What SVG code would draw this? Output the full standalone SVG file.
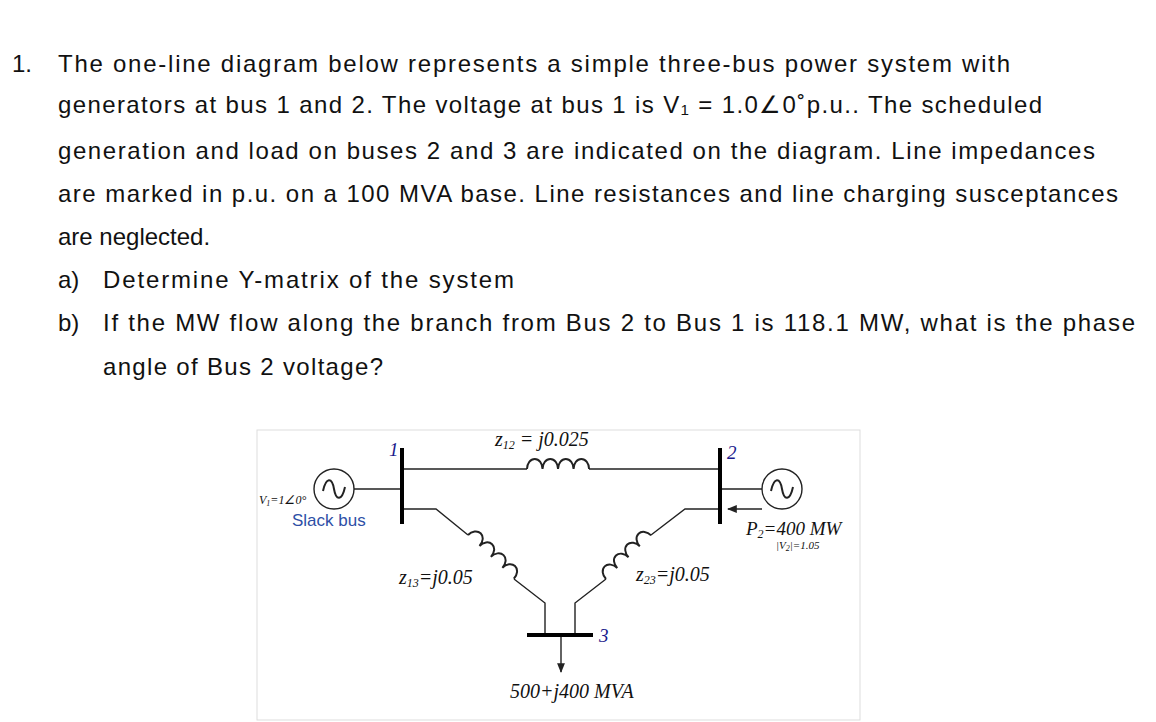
<svg xmlns="http://www.w3.org/2000/svg" width="1156" height="722" viewBox="0 0 1156 722">
<style>
.q{font-family:"Liberation Sans",Arial,sans-serif;font-size:24px;fill:#111}
.d{font-family:"Liberation Serif","Times New Roman",serif;font-style:italic;fill:#111}
.w{stroke:#222;stroke-width:1.4;fill:none}
.c{stroke:#222;stroke-width:2;fill:none}
.b{stroke:#000;stroke-width:4;fill:none}
</style>
<defs>
<marker id="ah" viewBox="0 0 10 10" refX="9" refY="5" markerWidth="7" markerHeight="7" orient="auto"><path d="M0,1 L10,5 L0,9 z" fill="#222"/></marker>
<path id="coil" d="M0,0 a8,10 0 0 1 16,0 a8,10 0 0 1 16,0 a8,10 0 0 1 16,0 a8,10 0 0 1 16,0" />
</defs>
<rect width="1156" height="722" fill="#fff"/>
<g id="question">
<text class="q" x="12" y="72">1.</text>
<text class="q" x="58" y="72" textLength="952">The one-line diagram below represents a simple three-bus power system with</text>
<text class="q" x="58" y="113" textLength="984">generators at bus 1 and 2. The voltage at bus 1 is V₁ = 1.0∠0˚p.u.. The scheduled</text>
<text class="q" x="58" y="159" textLength="1037">generation and load on buses 2 and 3 are indicated on the diagram. Line impedances</text>
<text class="q" x="58" y="202" textLength="1060">are marked in p.u. on a 100 MVA base. Line resistances and line charging susceptances</text>
<text class="q" x="58" y="245">are neglected.</text>
<text class="q" x="58" y="288">a)</text>
<text class="q" x="103" y="288" textLength="411">Determine Y-matrix of the system</text>
<text class="q" x="58" y="331">b)</text>
<text class="q" x="103" y="331" textLength="1032">If the MW flow along the branch from Bus 2 to Bus 1 is 118.1 MW, what is the phase</text>
<text class="q" x="103" y="375" textLength="280">angle of Bus 2 voltage?</text>
</g>
<rect x="257" y="430" width="603" height="290" fill="none" stroke="#ddd" stroke-width="1"/>
<g id="connectors">
<path class="w" d="M402,469 H527 M589,469 H720"/>
<use href="#coil" class="c" transform="translate(527,469) scale(0.97,1)"/>
<path class="w" d="M354,489 H402 M720,489 H762"/>
<path class="w" d="M402,509 H436 L468,535 M514,579 L545,603 V635"/>
<use href="#coil" class="c" transform="translate(468,535) rotate(43.7) scale(0.99,1)"/>
<path class="w" d="M720,509 H685 L651,535 M606,579 L575,603 V635"/>
<use href="#coil" class="c" transform="translate(606,579) rotate(-44) scale(0.98,1)"/>
<path class="w" d="M762,509 H728" marker-end="url(#ah)"/>
<path class="w" d="M561,635 V672" marker-end="url(#ah)"/>
</g>
<g id="bus1"><path class="b" d="M402,448 V524"/><text class="d" x="389" y="456" font-size="19" style="fill:#1a1a8c">1</text></g>
<g id="bus2"><path class="b" d="M720,448 V524"/><text class="d" x="727" y="459" font-size="19" style="fill:#1a1a8c">2</text></g>
<g id="bus3"><path class="b" d="M527,635 H593"/><text class="d" x="599" y="642" font-size="19" style="fill:#1a1a8c">3</text></g>
<g id="gen1"><circle cx="334" cy="489" r="20" fill="#fff" stroke="#222" stroke-width="1.4"/><path class="c" d="M323,491 c3,-14 9,-14 11,-2 c2,12 8,12 11,-2"/>
<text class="d" x="259" y="504" font-size="12">V<tspan font-size="8" dy="2">1</tspan><tspan dy="-2">=1∠0°</tspan></text>
<text x="292" y="526" font-family="'Liberation Sans',Arial,sans-serif" font-size="17" fill="#2e4fa6">Slack bus</text></g>
<g id="gen2"><circle cx="782" cy="489" r="20" fill="#fff" stroke="#222" stroke-width="1.4"/><path class="c" d="M771,491 c3,-14 9,-14 11,-2 c2,12 8,12 11,-2"/>
<text class="d" x="746" y="535" font-size="19">P<tspan font-size="12" dy="3">2</tspan><tspan dy="-3">=400 MW</tspan></text>
<text class="d" x="776" y="549" font-size="11" font-style="normal">|V<tspan font-size="8" dy="2">2</tspan><tspan dy="-2">|=1.05</tspan></text></g>
<g id="labels">
<text class="d" x="495" y="446" font-size="20">z<tspan font-size="12" dy="3">12</tspan><tspan dy="-3"> = j0.025</tspan></text>
<text class="d" x="399" y="584" font-size="20">z<tspan font-size="12" dy="3">13</tspan><tspan dy="-3">=j0.05</tspan></text>
<text class="d" x="636" y="581" font-size="20">z<tspan font-size="12" dy="3">23</tspan><tspan dy="-3">=j0.05</tspan></text>
<text class="d" x="510" y="698" font-size="20">500+j400 MVA</text>
</g>
</svg>
